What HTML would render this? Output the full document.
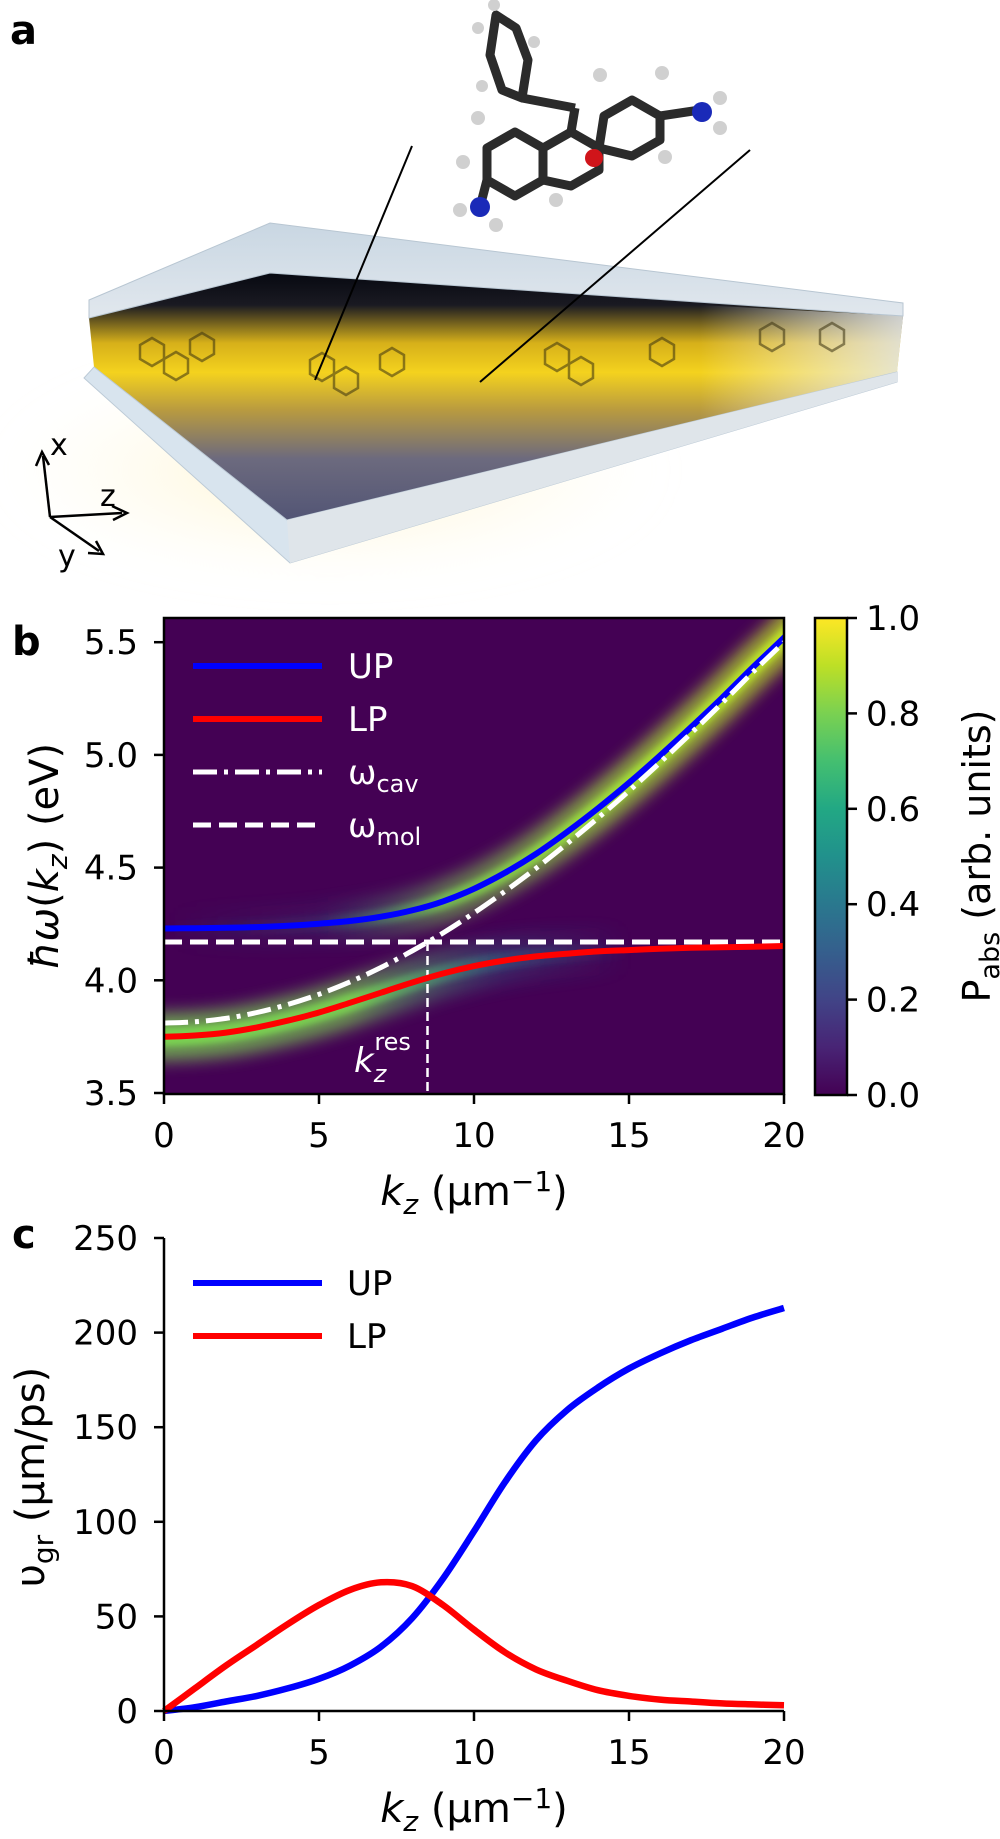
<!DOCTYPE html>
<html><head><meta charset="utf-8">
<style>
html,body{margin:0;padding:0;background:#fff;}
svg{display:block;font-family:"DejaVu Sans","Liberation Sans",sans-serif;}
</style></head>
<body>
<svg id="fig" width="1000" height="1839" viewBox="0 0 1000 1839" xmlns="http://www.w3.org/2000/svg">
<defs>
  <linearGradient id="gapGrad" x1="0" y1="270" x2="0" y2="540" gradientUnits="userSpaceOnUse">
    <stop offset="0" stop-color="#05070f"/>
    <stop offset="0.13" stop-color="#1a1a22"/>
    <stop offset="0.27" stop-color="#d6b01a"/>
    <stop offset="0.38" stop-color="#f4d21e"/>
    <stop offset="0.52" stop-color="#b89a40"/>
    <stop offset="0.7" stop-color="#6c6a7e"/>
    <stop offset="1" stop-color="#4a4e72"/>
  </linearGradient>
  <linearGradient id="tipGrad" x1="700" y1="0" x2="903" y2="0" gradientUnits="userSpaceOnUse">
    <stop offset="0" stop-color="#ffffff" stop-opacity="0"/>
    <stop offset="1" stop-color="#e4e8ee" stop-opacity="0.85"/>
  </linearGradient>
  <linearGradient id="plateGrad" x1="0" y1="220" x2="0" y2="320" gradientUnits="userSpaceOnUse">
    <stop offset="0" stop-color="#c8d6e2"/>
    <stop offset="1" stop-color="#e2e8ee"/>
  </linearGradient>
  <radialGradient id="glowGrad" cx="0.5" cy="0.5" r="0.5">
    <stop offset="0" stop-color="#fff3c0" stop-opacity="0.8"/>
    <stop offset="1" stop-color="#fff8e0" stop-opacity="0"/>
  </radialGradient>
  <linearGradient id="viridis" x1="0" y1="1" x2="0" y2="0">
    <stop offset="0" stop-color="#440154"/>
    <stop offset="0.1" stop-color="#482475"/>
    <stop offset="0.2" stop-color="#414487"/>
    <stop offset="0.3" stop-color="#355f8d"/>
    <stop offset="0.4" stop-color="#2a788e"/>
    <stop offset="0.5" stop-color="#21918c"/>
    <stop offset="0.6" stop-color="#22a884"/>
    <stop offset="0.7" stop-color="#44bf70"/>
    <stop offset="0.8" stop-color="#7ad151"/>
    <stop offset="0.9" stop-color="#bddf26"/>
    <stop offset="1" stop-color="#fde725"/>
  </linearGradient>
  <linearGradient id="lpFade" x1="164" y1="0" x2="784" y2="0" gradientUnits="userSpaceOnUse">
    <stop offset="0" stop-color="#7ad151" stop-opacity="1"/>
    <stop offset="0.3" stop-color="#7ad151" stop-opacity="0.9"/>
    <stop offset="0.55" stop-color="#2a788e" stop-opacity="0.35"/>
    <stop offset="0.75" stop-color="#2a788e" stop-opacity="0"/>
    <stop offset="1" stop-color="#2a788e" stop-opacity="0"/>
  </linearGradient>
  <linearGradient id="upFade" x1="164" y1="0" x2="784" y2="0" gradientUnits="userSpaceOnUse">
    <stop offset="0" stop-color="#2a788e" stop-opacity="0"/>
    <stop offset="0.25" stop-color="#2a788e" stop-opacity="0.15"/>
    <stop offset="0.45" stop-color="#7ad151" stop-opacity="0.7"/>
    <stop offset="0.7" stop-color="#9bd93c" stop-opacity="1"/>
    <stop offset="1" stop-color="#bddf26" stop-opacity="1"/>
  </linearGradient>
  <filter id="blur8" filterUnits="userSpaceOnUse" x="0" y="500" width="1000" height="700"><feGaussianBlur stdDeviation="8"/></filter>
  <filter id="blur3" filterUnits="userSpaceOnUse" x="0" y="500" width="1000" height="700"><feGaussianBlur stdDeviation="3"/></filter>
  <filter id="blur20" x="-50%" y="-50%" width="200%" height="200%"><feGaussianBlur stdDeviation="20"/></filter>
  <clipPath id="clipB"><rect x="164" y="618" width="620" height="476"/></clipPath>
</defs>

<!-- ================= PANEL A ================= -->
<g>
  <text x="10" y="44" font-size="40" font-weight="bold">a</text>
  <ellipse cx="330" cy="470" rx="330" ry="110" fill="url(#glowGrad)" filter="url(#blur20)"/>
  <polygon points="89,318 270,273 903,316 897,372 287,520 94,367" fill="url(#gapGrad)"/>
  <polygon points="700,305 903,316 897,372 700,420" fill="url(#tipGrad)"/>
  <g fill="none" stroke="#3a3210" stroke-width="2.5" opacity="0.55">
    <polygon points="140,345 152,338 164,345 164,359 152,366 140,359"/>
    <polygon points="164,359 176,352 188,359 188,373 176,380 164,373"/>
    <polygon points="190,340 202,333 214,340 214,354 202,361 190,354"/>
    <polygon points="310,360 322,353 334,360 334,374 322,381 310,374"/>
    <polygon points="334,374 346,367 358,374 358,388 346,395 334,388"/>
    <polygon points="380,355 392,348 404,355 404,369 392,376 380,369"/>
    <polygon points="545,350 557,343 569,350 569,364 557,371 545,364"/>
    <polygon points="569,364 581,357 593,364 593,378 581,385 569,378"/>
    <polygon points="650,345 662,338 674,345 674,359 662,366 650,359"/>
    <polygon points="760,330 772,323 784,330 784,344 772,351 760,344"/>
    <polygon points="820,330 832,323 844,330 844,344 832,351 820,344"/>
  </g>
  <polygon points="89,300 270,223 903,303 903,316 270,273 89,318" fill="url(#plateGrad)" stroke="#b8c6d2" stroke-width="1"/>
  <polygon points="94,367 287,520 897,372 897,382 290,563 84,378" fill="#d8e4ee" stroke="#bccad6" stroke-width="1"/>
  <polygon points="287,520 897,372 897,382 290,563" fill="#dfe5ea"/>
  <line x1="412" y1="146" x2="315" y2="380" stroke="#000" stroke-width="2"/>
  <line x1="750" y1="150" x2="480" y2="382" stroke="#000" stroke-width="2"/>
  <g>
    <g fill="none" stroke="#2b2b2b" stroke-width="9" stroke-linejoin="round">
      <polygon points="487,148 515,132 543,148 543,180 515,196 487,180"/>
      <polygon points="543,148 571,132 599,148 599,170 571,186 543,180"/>
      <polygon points="599,148 604,116 632,100 660,116 660,140 632,156"/>
      <polygon points="496,15 516,28 528,60 522,98 502,90 490,55"/>
      <line x1="571" y1="132" x2="575" y2="108"/>
      <line x1="575" y1="108" x2="522" y2="98"/>
      <line x1="660" y1="116" x2="700" y2="110"/>
      <line x1="487" y1="180" x2="480" y2="207"/>
    </g>
    <circle cx="594" cy="158" r="9" fill="#d0141a"/>
    <circle cx="480" cy="207" r="10" fill="#1a2ab8"/>
    <circle cx="702" cy="112" r="10" fill="#1a2ab8"/>
    <g fill="#d0d0d0">
      <circle cx="460" cy="210" r="7"/><circle cx="496" cy="225" r="7"/>
      <circle cx="720" cy="98" r="7"/><circle cx="720" cy="128" r="7"/>
      <circle cx="463" cy="162" r="7"/><circle cx="556" cy="200" r="7"/>
      <circle cx="478" cy="118" r="7"/><circle cx="600" cy="75" r="7"/>
      <circle cx="662" cy="73" r="7"/><circle cx="665" cy="157" r="7"/>
      <circle cx="494" cy="5" r="6"/><circle cx="478" cy="28" r="6"/>
      <circle cx="534" cy="42" r="6"/><circle cx="482" cy="86" r="6"/>
    </g>
  </g>
  <g stroke="#000" stroke-width="2.5" fill="none">
    <line x1="50" y1="517" x2="43" y2="456"/>
    <line x1="50" y1="517" x2="122" y2="513"/>
    <line x1="50" y1="517" x2="99" y2="551"/>
    <polyline points="36,466 42,452 49,465"/>
    <polyline points="112,506 127,513 113,520"/>
    <polyline points="88,553 103,554 96,541"/>
  </g>
  <g font-size="30">
    <text x="50" y="455">x</text>
    <text x="100" y="506">z</text>
    <text x="58" y="566">y</text>
  </g>
</g>

<!-- ================= PANEL B ================= -->
<text x="12" y="655" font-size="40" font-weight="bold">b</text>
<g id="panelB">
  <rect x="164" y="618" width="620" height="476" fill="#440154"/>
  <g id="glowB" clip-path="url(#clipB)"></g>
  <g id="curvesB" clip-path="url(#clipB)"></g>
  <rect x="164" y="618" width="620" height="476" fill="none" stroke="#000" stroke-width="2.5"/>
  <g id="ticksB"></g>
  <g>
    <line x1="193" y1="666" x2="322" y2="666" stroke="#0000ff" stroke-width="6"/>
    <text x="348" y="678" font-size="34" fill="#fff">UP</text>
    <line x1="193" y1="719" x2="322" y2="719" stroke="#ff0000" stroke-width="6"/>
    <text x="348" y="731" font-size="34" fill="#fff">LP</text>
    <line x1="193" y1="772" x2="322" y2="772" stroke="#fff" stroke-width="5" stroke-dasharray="24,7,4,7"/>
    <text x="348" y="784" font-size="34" fill="#fff">ω<tspan font-size="24" dy="8">cav</tspan></text>
    <line x1="193" y1="825" x2="322" y2="825" stroke="#fff" stroke-width="5" stroke-dasharray="18,8"/>
    <text x="348" y="837" font-size="34" fill="#fff">ω<tspan font-size="24" dy="8">mol</tspan></text>
  </g>
  <text x="354" y="1072" font-size="34" fill="#fff"><tspan font-style="italic">k</tspan><tspan font-size="24" font-style="italic" dy="10">z</tspan><tspan font-size="24" dx="-12" dy="-32">res</tspan></text>
  <text transform="translate(58,856) rotate(-90)" text-anchor="middle" font-size="40"><tspan font-style="italic">ħω</tspan>(<tspan font-style="italic">k</tspan><tspan font-size="28" font-style="italic" dy="9">z</tspan><tspan dy="-9">) (eV)</tspan></text>
  <text x="474" y="1205" text-anchor="middle" font-size="40"><tspan font-style="italic">k</tspan><tspan font-size="28" font-style="italic" dy="9">z</tspan><tspan dy="-9"> (μm</tspan><tspan font-size="28" dy="-14">−1</tspan><tspan dy="14">)</tspan></text>
</g>
<g>
  <rect x="815" y="618" width="32" height="477" fill="url(#viridis)" stroke="#000" stroke-width="2.5"/>
  <g id="cbTicks"></g>
  <text transform="translate(990,856) rotate(-90)" text-anchor="middle" font-size="38">P<tspan font-size="27" dy="9">abs</tspan><tspan dy="-9"> (arb. units)</tspan></text>
</g>

<!-- ================= PANEL C ================= -->
<text x="12" y="1248" font-size="40" font-weight="bold">c</text>
<g id="panelC">
  <g id="curvesC"></g>
  <line x1="164" y1="1238" x2="164" y2="1711" stroke="#000" stroke-width="2.5"/>
  <line x1="164" y1="1711" x2="784" y2="1711" stroke="#000" stroke-width="2.5"/>
  <g id="ticksC"></g>
  <g>
    <line x1="193" y1="1283" x2="322" y2="1283" stroke="#0000ff" stroke-width="6"/>
    <text x="347" y="1295" font-size="34">UP</text>
    <line x1="193" y1="1336" x2="322" y2="1336" stroke="#ff0000" stroke-width="6"/>
    <text x="347" y="1348" font-size="34">LP</text>
  </g>
  <text transform="translate(44,1477) rotate(-90)" text-anchor="middle" font-size="40">υ<tspan font-size="28" dy="9">gr</tspan><tspan dy="-9"> (μm/ps)</tspan></text>
  <text x="474" y="1822" text-anchor="middle" font-size="40"><tspan font-style="italic">k</tspan><tspan font-size="28" font-style="italic" dy="9">z</tspan><tspan dy="-9"> (μm</tspan><tspan font-size="28" dy="-14">−1</tspan><tspan dy="14">)</tspan></text>
</g>

<script>
// ---- data ----
const kz = [0,1,2,3,4,5,6,7,8,9,10,11,12,13,14,15,16,17,18,19,20];
const upEnergy = [4.23,4.231,4.233,4.236,4.242,4.251,4.263,4.282,4.31,4.35,4.406,4.477,4.561,4.658,4.763,4.876,4.997,5.123,5.253,5.389,5.52];
const lpEnergy = [3.75,3.755,3.768,3.791,3.821,3.857,3.9,3.945,3.99,4.03,4.063,4.088,4.106,4.118,4.128,4.134,4.14,4.144,4.147,4.149,4.152];
const cavEnergy = [3.81,3.816,3.831,3.857,3.893,3.938,3.993,4.057,4.13,4.21,4.299,4.395,4.497,4.606,4.72,4.84,4.966,5.096,5.23,5.368,5.5];
const molEnergy = 4.17;
const kRes = 8.5;
const upVelocity = [0,2,5,8,12,17,24,34,49,70,95,121,143,159,171,181,189,196,202,208,213];
const lpVelocity = [0,12,24,35,46,56,64,68,66,56,43,31,22,16,11,8,6,5,4,3.5,3];
const xTicksB = [0,5,10,15,20];
const yTicksB = [3.5,4.0,4.5,5.0,5.5];
const cbTicks = [0.0,0.2,0.4,0.6,0.8,1.0];
const xTicksC = [0,5,10,15,20];
const yTicksC = [0,50,100,150,200,250];

const NS = 'http://www.w3.org/2000/svg';
const xB = k => 164 + k * 31;
const yB = e => 1093 - (e - 3.5) * 225.4;
const xC = k => 164 + k * 31;
const yC = v => 1711 - v * 1.892;
const yCB = v => 1095 - v * 477;

function smooth(pts){
  let d = 'M' + pts[0][0].toFixed(1) + ',' + pts[0][1].toFixed(1);
  for (let i = 0; i < pts.length - 1; i++){
    const p0 = pts[Math.max(i-1,0)], p1 = pts[i], p2 = pts[i+1], p3 = pts[Math.min(i+2,pts.length-1)];
    const c1x = p1[0] + (p2[0]-p0[0])/6, c1y = p1[1] + (p2[1]-p0[1])/6;
    const c2x = p2[0] - (p3[0]-p1[0])/6, c2y = p2[1] - (p3[1]-p1[1])/6;
    d += ' C' + c1x.toFixed(1)+','+c1y.toFixed(1)+' '+c2x.toFixed(1)+','+c2y.toFixed(1)+' '+p2[0].toFixed(1)+','+p2[1].toFixed(1);
  }
  return d;
}
function mk(tag, attrs, parent){
  const el = document.createElementNS(NS, tag);
  for (const a in attrs) el.setAttribute(a, attrs[a]);
  parent.appendChild(el);
  return el;
}
function txt(x, y, s, anchor, parent, size){
  const t = mk('text', {x:x, y:y, 'text-anchor':anchor, 'font-size':size||34}, parent);
  t.textContent = s;
  return t;
}

// ---- panel b ----
const glowB = document.getElementById('glowB');
const curvesB = document.getElementById('curvesB');
const lpPts = [[xB(-1), yB(lpEnergy[0])]].concat(kz.map((k,i)=>[xB(k), yB(lpEnergy[i])]));
const upPts = kz.map((k,i)=>[xB(k), yB(upEnergy[i])]).concat([[xB(21), yB(upEnergy[20]) - 31]]);
const cavPts = kz.map((k,i)=>[xB(k), yB(cavEnergy[i])]);

let g1 = mk('path', {d: smooth(lpPts), fill:'none', stroke:'url(#lpFade)', 'stroke-width':48, filter:'url(#blur8)', opacity:0.75}, glowB);


let g2 = mk('path', {d: smooth(lpPts), fill:'none', stroke:'url(#lpFade)', 'stroke-width':18, filter:'url(#blur3)'}, glowB);


let g3 = mk('path', {d: smooth(upPts), fill:'none', stroke:'url(#upFade)', 'stroke-width':42, filter:'url(#blur8)', opacity:0.75}, glowB);


let g4 = mk('path', {d: smooth(upPts), fill:'none', stroke:'url(#upFade)', 'stroke-width':16, filter:'url(#blur3)'}, glowB);



let molLine = mk('line', {x1:xB(0), y1:yB(molEnergy), x2:xB(20), y2:yB(molEnergy), stroke:'#fff', 'stroke-width':5, 'stroke-dasharray':'18,8'}, curvesB);


let resLine = mk('line', {x1:xB(kRes), y1:yB(molEnergy), x2:xB(kRes), y2:1094, stroke:'#fff', 'stroke-width':2.5, 'stroke-dasharray':'9,5'}, curvesB);


let upLine = mk('path', {d: smooth(upPts), fill:'none', stroke:'#0000ff', 'stroke-width':6}, curvesB);


let lpLine = mk('path', {d: smooth(lpPts), fill:'none', stroke:'#ff0000', 'stroke-width':6}, curvesB);


let cavLine = mk('path', {d: smooth(cavPts), fill:'none', stroke:'#fff', 'stroke-width':5, 'stroke-dasharray':'24,7,4,7'}, curvesB);



const ticksB = document.getElementById('ticksB');
xTicksB.forEach(k=>{
  const l = mk('line', {x1:xB(k), y1:1094, x2:xB(k), y2:1104, stroke:'#000', 'stroke-width':2.5}, ticksB);
  
  
  const t = txt(xB(k), 1147, String(k), 'middle', ticksB);
  
  
});
yTicksB.forEach(v=>{
  const l = mk('line', {x1:154, y1:yB(v), x2:164, y2:yB(v), stroke:'#000', 'stroke-width':2.5}, ticksB);
  
  
  const t = txt(138, yB(v)+12, v.toFixed(1), 'end', ticksB);
  
  
});
const cbG = document.getElementById('cbTicks');
cbTicks.forEach(v=>{
  const l = mk('line', {x1:847, y1:yCB(v), x2:857, y2:yCB(v), stroke:'#000', 'stroke-width':2.5}, cbG);
  
  
  const t = txt(866, yCB(v)+12, v.toFixed(1), 'start', cbG);
  
  
});

// ---- panel c ----
const curvesC = document.getElementById('curvesC');
let upV = mk('path', {d: smooth(kz.map((k,i)=>[xC(k), yC(upVelocity[i])])), fill:'none', stroke:'#0000ff', 'stroke-width':6.5}, curvesC);


let lpV = mk('path', {d: smooth(kz.map((k,i)=>[xC(k), yC(lpVelocity[i])])), fill:'none', stroke:'#ff0000', 'stroke-width':6.5}, curvesC);


const ticksC = document.getElementById('ticksC');
xTicksC.forEach(k=>{
  const l = mk('line', {x1:xC(k), y1:1711, x2:xC(k), y2:1721, stroke:'#000', 'stroke-width':2.5}, ticksC);
  
  
  const t = txt(xC(k), 1764, String(k), 'middle', ticksC);
  
  
});
yTicksC.forEach(v=>{
  const l = mk('line', {x1:154, y1:yC(v), x2:164, y2:yC(v), stroke:'#000', 'stroke-width':2.5}, ticksC);
  
  
  const t = txt(138, yC(v)+12, String(v), 'end', ticksC);
  
  
});
</script>
</svg>
</body></html>
